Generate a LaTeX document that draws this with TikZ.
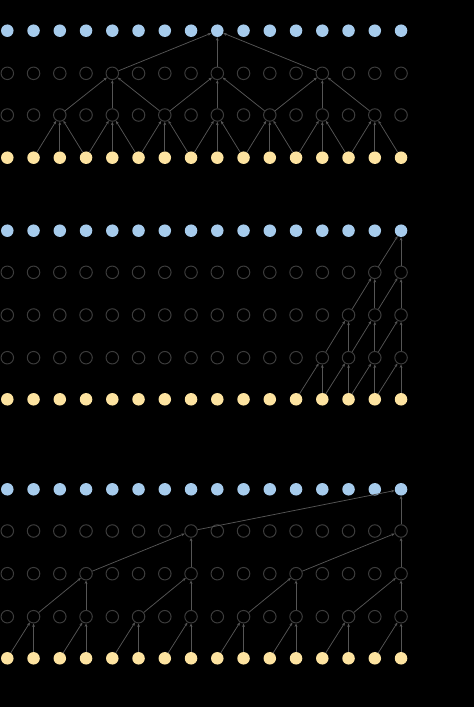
\documentclass[tikz,border=0pt]{standalone}
\usetikzlibrary{arrows.meta}
\definecolor{outblue}{HTML}{A6CBEC}
\definecolor{inyellow}{HTML}{FDE3A0}
\definecolor{unitgray}{HTML}{3C3C3C}
\definecolor{edgegray}{HTML}{555555}
\tikzset{
  unit/.style={circle,draw=unitgray,line width=1pt,minimum size=12.5pt,inner sep=0pt},
  outunit/.style={circle,fill=outblue,minimum size=12.5pt,inner sep=0pt},
  inunit/.style={circle,fill=inyellow,minimum size=12.5pt,inner sep=0pt},
  link/.style={draw=edgegray,line width=0.75pt,-{Stealth[length=3.5pt,width=2.8pt]}}
}
\begin{document}
\begin{tikzpicture}[x=1pt,y=-1pt]
  \fill[black] (0,0) rectangle (474,707);
  \useasboundingbox (0,0) rectangle (474,707);

  % top: three-wide kernel, stride two
  \foreach \c in {0,...,15}{
    \node[outunit] (a0-\c) at (7.3+26.25*\c,30.7) {};
    \node[unit]    (a1-\c) at (7.3+26.25*\c,73.3) {};
    \node[unit]    (a2-\c) at (7.3+26.25*\c,115) {};
    \node[inunit]  (a3-\c) at (7.3+26.25*\c,157.7) {};
  }
  \foreach \c in {2,4,...,14}{
    \foreach \d in {-1,0,1}{
      \pgfmathtruncatemacro\s{\c+\d}
      \draw[link] (a3-\s) -- (a2-\c);
    }
  }
  \foreach \c in {4,8,12}{
    \foreach \d in {-2,0,2}{
      \pgfmathtruncatemacro\s{\c+\d}
      \draw[link] (a2-\s) -- (a1-\c);
    }
    \draw[link] (a1-\c) -- (a0-8);
  }

  % middle: causal, no dilation
  \foreach \c in {0,...,15}{
    \node[outunit] (b0-\c) at (7.3+26.25*\c,230.7) {};
    \node[unit]    (b1-\c) at (7.3+26.25*\c,272.3) {};
    \node[unit]    (b2-\c) at (7.3+26.25*\c,315) {};
    \node[unit]    (b3-\c) at (7.3+26.25*\c,357.7) {};
    \node[inunit]  (b4-\c) at (7.3+26.25*\c,399.3) {};
  }
  \foreach \t in {0,...,3}{
    \pgfmathtruncatemacro\lo{15-\t}
    \pgfmathtruncatemacro\r{\t+1}
    \foreach \c in {\lo,...,15}{
      \pgfmathtruncatemacro\s{\c-1}
      \draw[link] (b\r-\s) -- (b\t-\c);
      \draw[link] (b\r-\c) -- (b\t-\c);
    }
  }

  % bottom: causal, dilated
  \foreach \c in {0,...,15}{
    \node[outunit] (c0-\c) at (7.3+26.25*\c,489.3) {};
    \node[unit]    (c1-\c) at (7.3+26.25*\c,531) {};
    \node[unit]    (c2-\c) at (7.3+26.25*\c,573.7) {};
    \node[unit]    (c3-\c) at (7.3+26.25*\c,616.7) {};
    \node[inunit]  (c4-\c) at (7.3+26.25*\c,658.3) {};
  }
  \foreach \c in {1,3,...,15}{
    \pgfmathtruncatemacro\s{\c-1}
    \draw[link] (c4-\s) -- (c3-\c);
    \draw[link] (c4-\c) -- (c3-\c);
  }
  \foreach \c in {3,7,11,15}{
    \pgfmathtruncatemacro\s{\c-2}
    \draw[link] (c3-\s) -- (c2-\c);
    \draw[link] (c3-\c) -- (c2-\c);
  }
  \foreach \c in {7,15}{
    \pgfmathtruncatemacro\s{\c-4}
    \draw[link] (c2-\s) -- (c1-\c);
    \draw[link] (c2-\c) -- (c1-\c);
  }
  \draw[link] (c1-7) -- (c0-15);
  \draw[link] (c1-15) -- (c0-15);
\end{tikzpicture}
\end{document}
